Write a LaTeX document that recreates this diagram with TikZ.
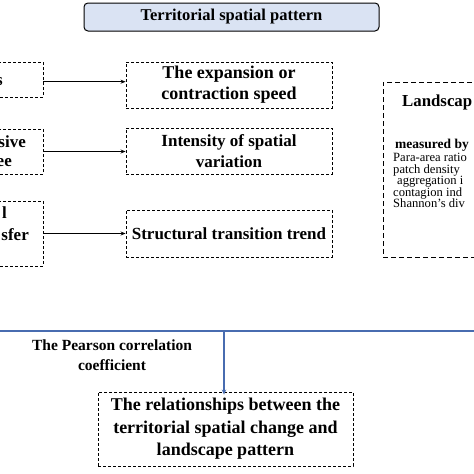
\documentclass[tikz,border=0pt]{standalone}
\usepackage{fontspec}
\setmainfont{Liberation Serif}
\usetikzlibrary{arrows.meta}
\definecolor{titlefill}{RGB}{218,227,243}
\definecolor{lineblue}{RGB}{72,108,176}
\tikzset{
  titlebox/.style={draw=black, line width=1pt, fill=titlefill, rounded corners=4pt, font=\fontsize{16.5}{19}\selectfont\bfseries, inner sep=0pt},
  dbox/.style={draw=black, line width=0.9pt, dash pattern=on 3pt off 2pt, inner sep=0pt},
  lbox/.style={draw=black, line width=0.9pt, dash pattern=on 5pt off 3pt, inner sep=0pt},
  midtext/.style={align=center, font=\fontsize{17}{21}\selectfont\bfseries},
  fragtext/.style={inner sep=0pt, font=\fontsize{17}{21}\selectfont\bfseries},
  arr/.style={draw=black, line width=0.7pt, -{Stealth[length=5pt,width=4pt]}},
  blueline/.style={draw=lineblue, line width=1.2pt},
  bluearr/.style={draw=lineblue, line width=1.2pt, -{Stealth[length=5pt,width=4.5pt]}},
}
\begin{document}
\begin{tikzpicture}[x=1pt,y=-1pt]
\useasboundingbox (0,0) rectangle (474,474);
\clip (0,0) rectangle (474,474);
\fill[white] (0,0) rectangle (474,474);

% title
\node[titlebox, minimum width=295pt, minimum height=28pt] (title) at (231.5,17) {Territorial spatial pattern};

% left boxes (cut off)
\node[dbox, minimum width=103pt, minimum height=35pt] (L1) at (-8.5,79.7) {};
\node[dbox, minimum width=103pt, minimum height=45pt] (L2) at (-8.5,151.5) {};
\node[dbox, minimum width=103pt, minimum height=65pt] (L3) at (-8.5,233.5) {};
\node[fragtext, anchor=east] (f1) at (3,82) {s};
\node[fragtext, anchor=east] (f2) at (26,142) {sive};
\node[fragtext, anchor=east] (f3) at (12,163) {ee};
\node[fragtext, anchor=east] (f4) at (7,213) {l};
\node[fragtext, anchor=east] (f5) at (29,235) {sfer};

% middle boxes
\node[dbox, midtext, font=\fontsize{18}{21}\selectfont\bfseries, minimum width=206pt, minimum height=46pt] (M1) at (229,85) {The expansion or\\contraction speed};
\node[dbox, midtext, minimum width=206pt, minimum height=46pt] (M2) at (229,151) {Intensity of spatial\\variation};
\node[dbox, midtext, minimum width=206pt, minimum height=47pt] (M3) at (229,233.5) {Structural transition trend};

% arrows
\draw[arr] ([yshift=-2pt]L1.east) -- ([yshift=-2pt]L1.east -| M1.west);
\draw[arr] (L2.east) -- (L2.east -| M2.west);
\draw[arr] (L3.east) -- (L3.east -| M3.west);

% landscape box (cut off)
\node[lbox, minimum width=177pt, minimum height=175pt] (R) at (471.5,169.5) {};
\node[inner sep=0pt, anchor=west, font=\fontsize{16.8}{19}\selectfont\bfseries] (R1) at (402,102) {Landscap};
\node[inner sep=0pt, anchor=west, font=\fontsize{13.5}{15}\selectfont\bfseries] (R2) at (395,145) {measured by};
\node[inner sep=0pt, anchor=west, align=left, font=\fontsize{12.6}{11.6}\selectfont] (R3) at (393,180.5) {Para-area ratio\\patch density\\\hspace*{4pt}aggregation i\\contagion ind\\Shannon's div};

% bottom part
\coordinate (hl) at (0,331);
\coordinate (hr) at (474,331);
\coordinate (hj) at (224,331);
\draw[blueline] (hl) -- (hr);
\node[align=center, inner sep=0pt, font=\fontsize{15.5}{20}\selectfont\bfseries] (P) at (112,355) {The Pearson correlation\\coefficient};
\node[dbox, align=center, font=\fontsize{18}{22.5}\selectfont\bfseries, minimum width=255pt, minimum height=74pt] (B) at (225.5,429) {The relationships between the\\territorial spatial change and\\landscape pattern};
\draw[bluearr] (hj) -- ([yshift=-3pt]hj |- B.north);
\end{tikzpicture}
\end{document}
